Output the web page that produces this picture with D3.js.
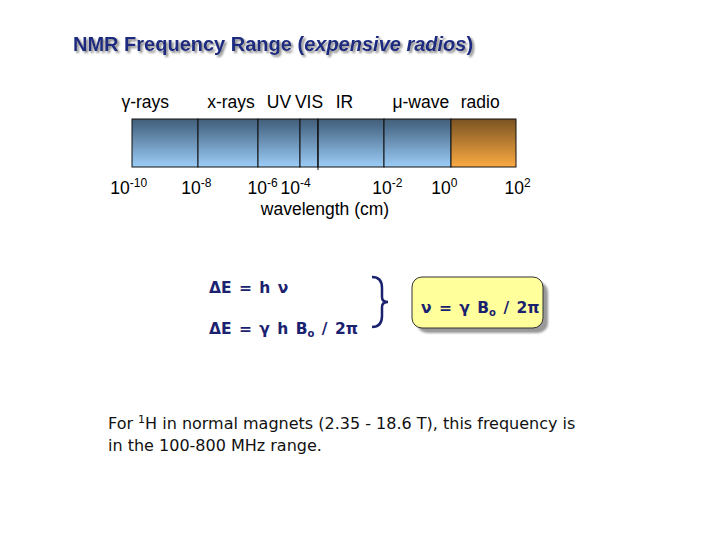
<!DOCTYPE html><html><head><meta charset="utf-8">
<script src="https://cdn.jsdelivr.net/npm/d3@7"></script>
<style>body{margin:0;background:#fff}</style></head><body>
<script>
const bandNames=["γ-rays","x-rays","UV","VIS","IR","μ-wave","radio"];
const bandStart=[-10,-8,-6,-4.6,-4,-2,0];
const bandEnd=[-8,-6,-4.6,-4,-2,0,2];
const tickExp=[-10,-8,-6,-4,-2,0,2];
const tickLabelPos=[-10.1,-8.05,-5.85,-4.75,-1.9,-0.2,2.05];
const bandLabelPos=[-9.6,-6.9,-5.3,-4.3,-3.2,-0.9,0.9];

const W=720,H=540;
const svg=d3.select("body").append("svg").attr("width",W).attr("height",H);
const x=d3.scaleLinear().domain([-10,-8,-6,-4,-2,0,2]).range([132,198,258,318,384,451,516]);
const defs=svg.append("defs");
const gb=defs.append("linearGradient").attr("id","gb").attr("x1",0).attr("y1",0).attr("x2",0).attr("y2",1);
gb.append("stop").attr("offset",0).attr("stop-color","#445f78");
gb.append("stop").attr("offset",0.15).attr("stop-color","#4d6d8c");
gb.append("stop").attr("offset",1).attr("stop-color","#9ccdf8");
const go=defs.append("linearGradient").attr("id","go").attr("x1",0).attr("y1",0).attr("x2",0).attr("y2",1);
go.append("stop").attr("offset",0).attr("stop-color","#7a5322");
go.append("stop").attr("offset",1).attr("stop-color","#fbaa42");
const f=defs.append("filter").attr("id","sh");
f.append("feGaussianBlur").attr("stdDeviation",1.2);
const ts=defs.append("filter").attr("id","tsh").attr("x","-10%").attr("y","-30%").attr("width","120%").attr("height","160%");
ts.append("feDropShadow").attr("dx",2).attr("dy",2).attr("stdDeviation",0.8).attr("flood-color","#888");

const t=svg.append("text").attr("x",73).attr("y",51).attr("fill","#1a2a80").attr("filter","url(#tsh)")
 .attr("font-family","Liberation Sans, Arial").attr("font-weight","bold").attr("font-size",20);
t.append("tspan").text("NMR Frequency Range (");
t.append("tspan").attr("font-style","italic").text("expensive radios");
t.append("tspan").text(")");

svg.append("g").selectAll("text").data(bandNames).join("text")
 .attr("x",(d,i)=>x(bandLabelPos[i])).attr("y",108).attr("text-anchor","middle")
 .attr("font-family","Liberation Sans, Arial").attr("font-size",17.5).text(d=>d);

svg.append("g").selectAll("rect").data(bandNames).join("rect")
 .attr("x",(d,i)=>x(bandStart[i])).attr("y",119).attr("width",(d,i)=>x(bandEnd[i])-x(bandStart[i])).attr("height",48)
 .attr("fill",(d,i)=>i==6?"url(#go)":"url(#gb)").attr("stroke","#111").attr("stroke-width",1);
svg.append("line").attr("x1",x(-4)).attr("x2",x(-4)).attr("y1",119).attr("y2",170).attr("stroke","#111");

const tl=svg.append("g").selectAll("text").data(tickExp).join("text")
 .attr("x",(d,i)=>x(tickLabelPos[i])).attr("y",194).attr("text-anchor","middle")
 .attr("font-family","Liberation Sans, Arial").attr("font-size",17.5);
tl.append("tspan").text("10");
tl.append("tspan").attr("dy",-7).attr("font-size",12).text(d=>d);
svg.append("text").attr("x",325).attr("y",215).attr("text-anchor","middle").attr("font-family","Liberation Sans, Arial").attr("font-size",17.5).text("wavelength (cm)");

svg.append("path").attr("d","M372,277 Q382,277 382,288 L382,297 Q382,302 388,302 Q382,302 382,307 L382,316 Q382,327 372,327")
 .attr("fill","none").attr("stroke","#1a2270").attr("stroke-width",2.5);
svg.append("rect").attr("x",417).attr("y",282).attr("width",131).attr("height",51).attr("rx",10).attr("fill","#999").attr("filter","url(#sh)");
svg.append("rect").attr("x",412).attr("y",277).attr("width",131).attr("height",51).attr("rx",10).attr("fill","#ffff9c").attr("stroke","#333");

const eq=svg.append("g").attr("font-family","DejaVu Sans, Verdana").attr("font-weight","bold").attr("font-size",15.5).attr("fill","#1a2270").attr("word-spacing",2);
eq.append("text").attr("x",209).attr("y",293).text("ΔE = h ν");
const e2=eq.append("text").attr("x",209).attr("y",334);
e2.append("tspan").text("ΔE = γ h B");e2.append("tspan").attr("font-size",10).attr("dy",3).text("o");
e2.append("tspan").attr("dy",-3).text(" / 2π");
const e3=eq.append("text").attr("x",421).attr("y",313);
e3.append("tspan").text("ν = γ B");e3.append("tspan").attr("font-size",10).attr("dy",3).text("o");
e3.append("tspan").attr("dy",-3).text(" / 2π");

const bt=svg.append("g").attr("font-family","DejaVu Sans, Verdana").attr("font-size",16).attr("fill","#111");
const b1=bt.append("text").attr("x",108).attr("y",429);
b1.append("tspan").text("For ");b1.append("tspan").attr("font-size",11).attr("dy",-6).text("1");
b1.append("tspan").attr("dy",6).text("H in normal magnets (2.35 - 18.6 T), this frequency is");
bt.append("text").attr("x",108).attr("y",451).text("in the 100-800 MHz range.");
</script></body></html>
